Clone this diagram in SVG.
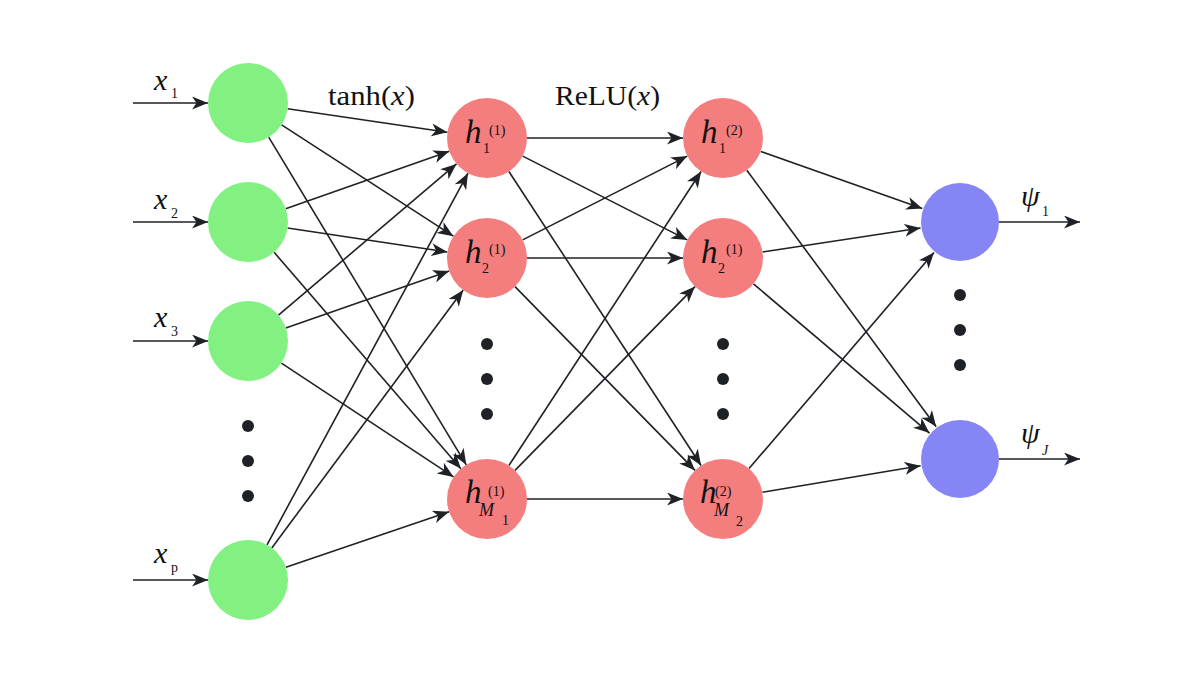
<svg xmlns="http://www.w3.org/2000/svg" width="1200" height="686" viewBox="0 0 1200 686">
<style>
.in{fill:#82f182}
.hid{fill:#f47e7e}
.out{fill:#8585f6}
.dot{fill:#1e2126}
.e line{stroke:#1e2126;stroke-width:1.6;marker-end:url(#ah)}
.t{font-family:"Liberation Serif","DejaVu Serif",serif;fill:#111}
.v{font-style:italic;font-size:30px}
.s{font-size:14px}
.hv{font-style:italic;font-size:33px}
.sm{font-style:italic;font-size:18px}
.fn{font-size:28px}
</style>
<defs>
<marker id="ah" markerUnits="userSpaceOnUse" markerWidth="18" markerHeight="14" refX="16" refY="6.5" orient="auto" viewBox="0 0 18 14">
<path d="M0,0 L16,6.5 L0,13 L4.5,6.5 z" fill="#1e2126"/>
</marker>
</defs>
<rect width="1200" height="686" fill="#ffffff"/>
<g id="connectors" class="e">
<line x1="133" y1="103" x2="208" y2="103"/>
<line x1="133" y1="222" x2="208" y2="222"/>
<line x1="133" y1="341" x2="208" y2="341"/>
<line x1="133" y1="580" x2="208" y2="580"/>
<line x1="287.6" y1="108.8" x2="447.4" y2="132.2"/>
<line x1="281.6" y1="124.8" x2="453.4" y2="236.2"/>
<line x1="268.7" y1="137.2" x2="466.3" y2="464.8"/>
<line x1="285.7" y1="208.7" x2="449.3" y2="151.3"/>
<line x1="287.6" y1="228.0" x2="447.4" y2="252.0"/>
<line x1="274.1" y1="252.3" x2="460.9" y2="468.7"/>
<line x1="278.5" y1="315.1" x2="456.5" y2="163.9"/>
<line x1="285.8" y1="327.9" x2="449.2" y2="271.1"/>
<line x1="281.4" y1="363.1" x2="453.6" y2="476.9"/>
<line x1="267.0" y1="544.8" x2="468.0" y2="173.2"/>
<line x1="271.8" y1="547.9" x2="463.2" y2="290.1"/>
<line x1="285.9" y1="567.2" x2="449.1" y2="511.8"/>
<line x1="527" y1="138" x2="683" y2="138"/>
<line x1="522.7" y1="156.1" x2="687.3" y2="239.9"/>
<line x1="508.9" y1="171.5" x2="701.1" y2="465.5"/>
<line x1="522.7" y1="239.9" x2="687.3" y2="156.1"/>
<line x1="527" y1="258" x2="683" y2="258"/>
<line x1="515.0" y1="286.6" x2="695.0" y2="470.4"/>
<line x1="508.9" y1="465.5" x2="701.1" y2="171.5"/>
<line x1="515.0" y1="470.4" x2="695.0" y2="286.6"/>
<line x1="527" y1="499" x2="683" y2="499"/>
<line x1="760.7" y1="151.4" x2="922.3" y2="208.6"/>
<line x1="746.8" y1="170.2" x2="936.2" y2="426.8"/>
<line x1="762.5" y1="252.0" x2="920.5" y2="228.0"/>
<line x1="753.5" y1="283.9" x2="929.5" y2="433.1"/>
<line x1="749.0" y1="468.6" x2="934.0" y2="252.4"/>
<line x1="762.4" y1="492.3" x2="920.6" y2="465.7"/>
<line x1="999" y1="222" x2="1080" y2="222"/>
<line x1="999" y1="459" x2="1080" y2="459"/>
</g>
<g id="in1"><circle class="in" cx="248" cy="103" r="40"/>
<text class="t v" x="154" y="90">x</text><text class="t s" x="171" y="98">1</text></g>
<g id="in2"><circle class="in" cx="248" cy="222" r="40"/>
<text class="t v" x="154" y="209">x</text><text class="t s" x="171" y="218">2</text></g>
<g id="in3"><circle class="in" cx="248" cy="341" r="40"/>
<text class="t v" x="154" y="327">x</text><text class="t s" x="171" y="336">3</text></g>
<g id="inp"><circle class="in" cx="248" cy="580" r="40"/>
<text class="t v" x="154" y="563">x</text><text class="t s" x="171" y="572">p</text></g>
<g id="dots-in"><circle class="dot" cx="248" cy="426" r="6"/><circle class="dot" cx="248" cy="461" r="6"/><circle class="dot" cx="248" cy="496" r="6"/></g>
<g id="a1"><circle class="hid" cx="487" cy="138" r="40"/>
<text class="t hv" x="465" y="143">h</text><text class="t s" x="483" y="153">1</text><text class="t s" x="489" y="135">(1)</text></g>
<g id="a2"><circle class="hid" cx="487" cy="258" r="40"/>
<text class="t hv" x="465" y="263">h</text><text class="t s" x="482" y="273">2</text><text class="t s" x="489" y="254">(1)</text></g>
<g id="dots-a"><circle class="dot" cx="487" cy="344" r="6"/><circle class="dot" cx="487" cy="379" r="6"/><circle class="dot" cx="487" cy="414" r="6"/></g>
<g id="am"><circle class="hid" cx="487" cy="499" r="40"/>
<text class="t hv" x="465" y="503">h</text><text class="t s" x="488" y="496">(1)</text><text class="t sm" x="479" y="516">M</text><text class="t s" x="502" y="525">1</text></g>
<g id="b1"><circle class="hid" cx="723" cy="138" r="40"/>
<text class="t hv" x="701" y="143">h</text><text class="t s" x="719" y="153">1</text><text class="t s" x="726" y="135">(2)</text></g>
<g id="b2"><circle class="hid" cx="723" cy="258" r="40"/>
<text class="t hv" x="701" y="263">h</text><text class="t s" x="718" y="273">2</text><text class="t s" x="726" y="254">(1)</text></g>
<g id="dots-b"><circle class="dot" cx="723" cy="344" r="6"/><circle class="dot" cx="723" cy="379" r="6"/><circle class="dot" cx="723" cy="414" r="6"/></g>
<g id="bm"><circle class="hid" cx="723" cy="499" r="40"/>
<text class="t hv" x="700" y="503">h</text><text class="t s" x="715" y="496">(2)</text><text class="t sm" x="714" y="516">M</text><text class="t s" x="736" y="526">2</text></g>
<g id="o1"><circle class="out" cx="960" cy="222" r="39"/>
<text class="t v" x="1021" y="206">ψ</text><text class="t s" x="1042" y="216">1</text></g>
<g id="dots-o"><circle class="dot" cx="960" cy="295" r="6"/><circle class="dot" cx="960" cy="330" r="6"/><circle class="dot" cx="960" cy="365" r="6"/></g>
<g id="oj"><circle class="out" cx="960" cy="459" r="39"/>
<text class="t v" x="1021" y="443">ψ</text><text class="t s" x="1042" y="455" font-style="italic">J</text></g>
<g id="labels">
<text class="t fn" x="328" y="105" textLength="87" lengthAdjust="spacingAndGlyphs">tanh(<tspan font-style="italic">x</tspan>)</text>
<text class="t fn" x="555" y="105" textLength="105" lengthAdjust="spacingAndGlyphs">ReLU(<tspan font-style="italic">x</tspan>)</text>
</g>
</svg>
